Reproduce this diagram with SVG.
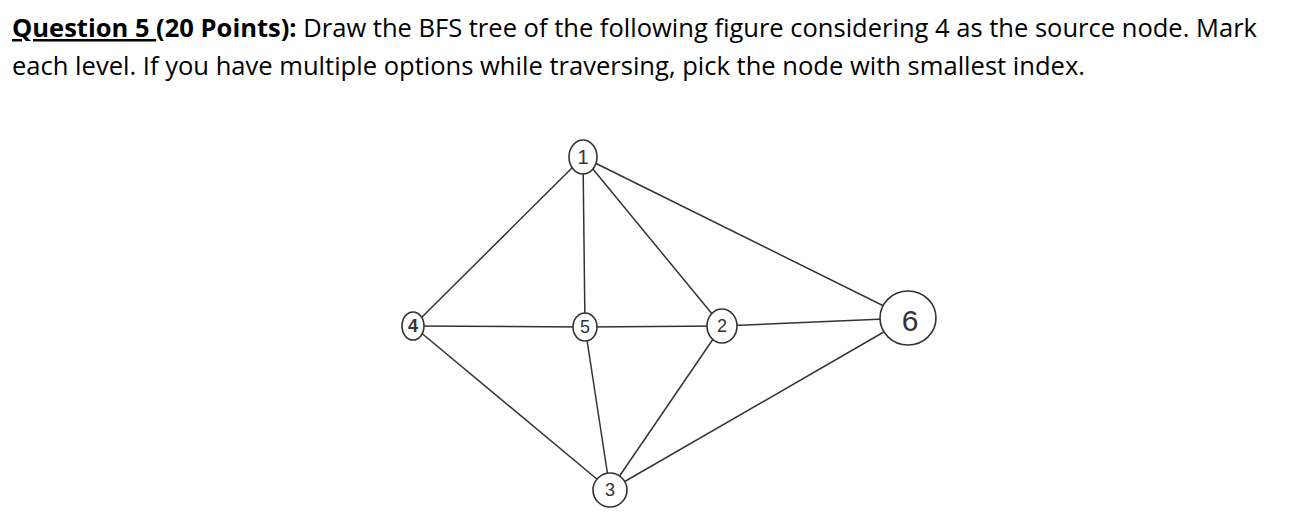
<svg xmlns="http://www.w3.org/2000/svg" width="1302" height="532" viewBox="0 0 1302 532">
<style>
.t{font-family:"Open Sans","Liberation Sans",sans-serif;font-size:25px;fill:#000}
.n ellipse{fill:#fff;stroke:#333;stroke-width:1.6}
.n text{font-family:"Liberation Sans",sans-serif;fill:#333;text-anchor:middle;dominant-baseline:central}
#edges line{stroke:#333;stroke-width:1.5}
</style>
<rect width="1302" height="532" fill="#fff"/>
<text class="t" x="12" y="37" textLength="1245" lengthAdjust="spacingAndGlyphs"><tspan font-weight="bold" text-decoration="underline">Question 5 </tspan><tspan font-weight="bold">(20 Points):</tspan> Draw the BFS tree of the following figure considering 4 as the source node. Mark</text>
<text class="t" x="12" y="75" textLength="1073" lengthAdjust="spacingAndGlyphs">each level. If you have multiple options while traversing, pick the node with smallest index.</text>
<g id="edges">
<line x1="583" y1="157" x2="413" y2="326"/>
<line x1="583" y1="157" x2="585" y2="327"/>
<line x1="583" y1="157" x2="722" y2="326"/>
<line x1="583" y1="157" x2="908" y2="318"/>
<line x1="413" y1="326" x2="585" y2="327"/>
<line x1="585" y1="327" x2="722" y2="326"/>
<line x1="722" y1="326" x2="908" y2="318"/>
<line x1="413" y1="326" x2="610" y2="490"/>
<line x1="585" y1="327" x2="610" y2="490"/>
<line x1="722" y1="326" x2="610" y2="490"/>
<line x1="908" y1="318" x2="610" y2="490"/>
</g>
<g id="n1" class="n"><ellipse cx="583" cy="157" rx="14" ry="17"/><text x="583" y="157" font-size="20">1</text></g>
<g id="n4" class="n"><ellipse cx="413" cy="326" rx="11" ry="14" stroke-width="2.5"/><text x="413" y="326" font-size="18" font-weight="bold">4</text></g>
<g id="n5" class="n"><ellipse cx="585" cy="327" rx="12" ry="14"/><text x="585" y="327" font-size="18">5</text></g>
<g id="n2" class="n"><ellipse cx="722" cy="326" rx="15" ry="17"/><text x="722" y="326" font-size="18">2</text></g>
<g id="n6" class="n"><ellipse cx="908" cy="318" rx="28" ry="27"/><text x="910" y="320" font-size="30">6</text></g>
<g id="n3" class="n"><ellipse cx="610" cy="490" rx="17" ry="17"/><text x="610" y="490" font-size="18">3</text></g>
</svg>
